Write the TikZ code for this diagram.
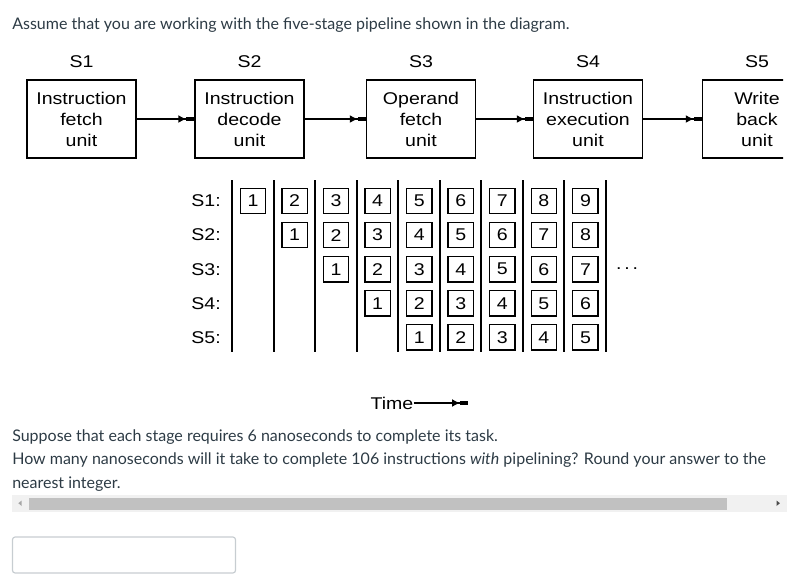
\documentclass[tikz,border=0pt]{standalone}
\usepackage{fontspec}
\setmainfont{Lato}
\newfontfamily\diafont[FakeStretch=1.15]{Liberation Sans}
\usetikzlibrary{positioning}
\usetikzlibrary{arrows.meta}
\definecolor{canvastext}{HTML}{2D3B45}
\definecolor{barbg}{HTML}{F1F1F1}
\definecolor{barthumb}{HTML}{C1C1C1}
\definecolor{inputline}{HTML}{C7CDD1}
\tikzset{
  diatext/.style={font=\diafont\fontsize{12.75}{15.75}\selectfont, inner sep=0pt},
  unitbox/.style={diatext, draw, line width=1.1pt, minimum width=81.75pt, minimum height=58.5pt, align=center},
  slot/.style={diatext, draw, line width=1pt, minimum size=19pt},
  pipe/.style={line width=1.1pt, -{Latex[length=6pt,width=6pt,sep=0pt]Rectangle[length=6pt,width=3pt]}},
  qtext/.style={font=\fontsize{12}{17}\selectfont, text=canvastext, anchor=base west, inner sep=0pt}
}

\begin{document}
\begin{tikzpicture}[x=0.75pt,y=-0.75pt]
\useasboundingbox (0,0) rectangle (801,587);
\node[qtext] (intro) at (12,29) {Assume that you are working with the five-stage pipeline shown in the diagram.};

\node[unitbox] (ifu) at (81.5,119) {Instruction\\fetch\\unit};
\node[unitbox] (idu) at (249.5,119) {Instruction\\decode\\unit};
\node[unitbox] (ofu) at (421,119) {Operand\\fetch\\unit};
\node[unitbox] (ieu) at (588,119) {Instruction\\execution\\unit};
\begin{scope}
\clip (0,0) rectangle (783,587);
\node[unitbox] (wbu) at (757,119) {Write\\back\\unit};
\end{scope}
\foreach \u [count=\i] in {ifu,idu,ofu,ieu,wbu}
 \node[diatext, above=8.25pt of \u] (s\i) {S\i};
\draw[pipe] (ifu) -- (idu);
\draw[pipe] (idu) -- (ofu);
\draw[pipe] (ofu) -- (ieu);
\draw[pipe] (ieu) -- (wbu);

\foreach \c [evaluate=\c as \xc using 232+41.56*\c] in {0,...,9}
 \draw[line width=1.5pt] (\xc,180) -- (\xc,352);
\foreach \r [evaluate=\r as \yr using 201+34.1*(\r-1)] in {1,...,5} {
 \node[diatext, anchor=east] (row\r) at (221,\yr) {S\r:};
 \foreach \c [evaluate=\c as \xc using 253+41.56*(\c-1)] in {1,...,9} {
  \pgfmathtruncatemacro\n{\c-\r+1}
  \ifnum\n>0 \node[slot] (t\c\r) at (\xc,\yr) {\n}; \fi
 }
}
\node[diatext] (more) at (627,269) {.\,.\,.};

\node[diatext] (time) at (392,403) {Time};
\coordinate (timeend) at (468,403);
\draw[pipe] (time) -- (timeend);

\node[qtext] (q1) at (12,441) {Suppose that each stage requires 6 nanoseconds to complete its task.};
\node[qtext] (q2) at (12,464.5) {How many nanoseconds will it take to complete 106 instructions \textit{with} pipelining? Round your answer to the};
\node[qtext] (q3) at (12,488) {nearest integer.};

\fill[barbg] (12,495) rectangle (787,512);
\fill[barthumb] (29,497.5) rectangle (727,509.5);
\fill[gray!70] (21.7,500.5) -- (21.7,506) -- (18.3,503.2) -- cycle;
\fill[black!70] (776.5,500.5) -- (776.5,506) -- (779.9,503.2) -- cycle;
\draw[inputline, line width=0.9pt, rounded corners=2pt] (12.5,537) rectangle (235.5,573);
\end{tikzpicture}
\end{document}
